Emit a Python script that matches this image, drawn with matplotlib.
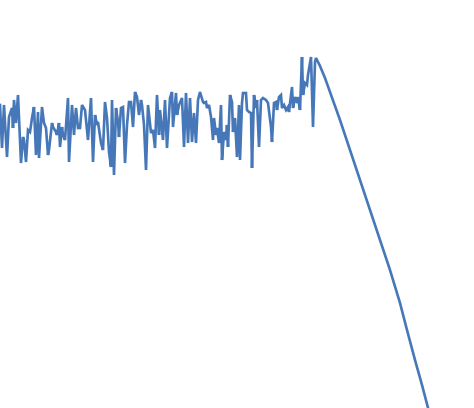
import matplotlib
matplotlib.use("Agg")
import matplotlib.pyplot as plt

# valores (x, altura)
x_ruido = [0, 2, 4, 7, 9, 12, 13, 14, 16, 18, 21, 23, 24, 26, 28, 30, 32, 34, 36, 38,
           39, 42, 44, 46, 48, 49, 52, 53, 56, 57, 59, 60, 62, 63, 65, 68, 69, 72, 74, 76,
           78, 80, 82, 85, 88, 91, 93, 95, 97, 98, 101, 103, 105, 107, 109, 111, 112, 114, 116, 118,
           119, 121, 123, 125, 127, 129, 131, 133, 135, 137, 139, 141, 142, 144, 146, 148, 151, 153, 155, 157,
           159, 160, 163, 165, 167, 170, 172, 173, 176, 177, 179, 182, 184, 186, 188, 190, 192, 194, 196, 198,
           200, 203, 204, 206, 207, 209, 211, 213, 214, 216, 217, 219, 221, 222, 224, 226, 227, 228, 230, 232,
           233, 235, 237, 239, 240, 242, 243, 246, 247, 249, 251, 252, 254, 256, 257, 259, 261, 263, 266, 268,
           271, 272, 274, 276, 277, 279, 281, 282, 284, 286, 288, 289, 292, 293, 295, 297, 298, 300, 302, 303,
           305, 307, 308, 311, 313, 315]
y_ruido = [105, 148, 105, 157, 117, 108, 128, 100, 123, 95, 163, 137, 140, 162, 130, 132, 118, 107, 155, 112,
           158, 107, 123, 128, 155, 150, 123, 127, 132, 135, 123, 147, 127, 135, 140, 98, 162, 105, 135, 108,
           128, 128, 105, 110, 140, 98, 162, 115, 125, 122, 143, 150, 102, 118, 152, 167, 100, 175, 108, 122,
           137, 108, 107, 163, 125, 102, 102, 127, 92, 97, 115, 100, 105, 125, 170, 105, 133, 130, 148, 95,
           135, 110, 140, 100, 148, 98, 92, 127, 93, 115, 105, 98, 147, 93, 143, 98, 142, 113, 143, 100,
           92, 102, 103, 102, 108, 105, 117, 140, 118, 135, 128, 143, 105, 160, 132, 140, 125, 147, 95, 102,
           132, 118, 157, 105, 160, 103, 93, 93, 110, 112, 113, 168, 95, 108, 100, 147, 100, 98, 100, 103,
           127, 142, 103, 102, 110, 97, 95, 108, 105, 110, 107, 112, 87, 108, 97, 103, 97, 110, 57, 95,
           83, 85, 75, 57, 127, 62]
x_caida = [316, 320, 325, 330, 335, 340, 350, 360, 370, 380, 390, 400, 407, 415, 422, 428, 430]
y_caida = [58, 66, 78, 92, 106, 120, 150, 180, 210, 240, 270, 303, 330, 360, 385, 408, 415]

x = x_ruido + x_caida
y = [408 - v for v in (y_ruido + y_caida)]

fig = plt.figure(figsize=(4.74, 4.08), dpi=100)
ax = fig.add_axes([0, 0, 1, 1])
ax.plot(x, y, color='#4677b8', linewidth=1.9, solid_joinstyle='miter')
ax.set_xlim(0, 474)
ax.set_ylim(0, 408)
ax.axis('off')
fig.savefig('out.png', dpi=100)
